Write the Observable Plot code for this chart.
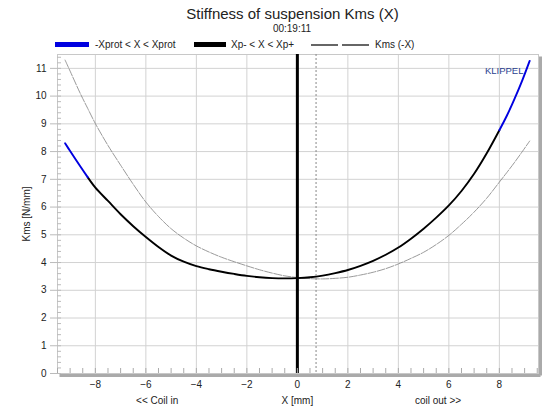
<!DOCTYPE html>
<html>
<head>
<meta charset="utf-8">
<script src="https://cdn.jsdelivr.net/npm/d3@7"></script>
<script src="https://cdn.jsdelivr.net/npm/@observablehq/plot@0.6"></script>
<style>
html, body { margin: 0; padding: 0; background: #fff; }
#wrap { position: relative; width: 560px; height: 413px; overflow: hidden;
  font-family: "Liberation Sans", Arial, sans-serif; color: #222; }
.t { position: absolute; white-space: nowrap; line-height: 1; }
#title { left: 0; width: 585px; text-align: center; top: 6px; font-size: 15px; }
#sub { left: 0; width: 584px; text-align: center; top: 24px; font-size: 10px; }
.sw { position: absolute; height: 5px; top: 42px; }
.lg { position: absolute; top: 40px; font-size: 10px; line-height: 10px; white-space: nowrap; }
#chart { position: absolute; left: 0; top: 44px; }
</style>
</head>
<body>
<div id="wrap">
  <div class="t" id="title">Stiffness of suspension Kms (X)</div>
  <div class="t" id="sub">00:19:11</div>
  <div class="sw" style="left:55px;width:34px;background:#0000e0;"></div>
  <div class="lg" style="left:95px;">-Xprot &lt; X &lt; Xprot</div>
  <div class="sw" style="left:194px;width:32px;background:#000;"></div>
  <div class="lg" style="left:231px;">Xp- &lt; X &lt; Xp+</div>
  <div class="sw" style="left:311px;width:27px;height:2px;top:44px;background:#666;"></div>
  <div class="sw" style="left:342px;width:27px;height:2px;top:44px;background:#666;"></div>
  <div class="lg" style="left:375px;">Kms (-X)</div>
  <div id="chart"></div>
</div>
<script>
// displacement X [mm]
const xs = [-9.2,-9.0,-8.6,-8.3,-8.0,-7.5,-7.0,-6.5,-6.0,-5.5,-5.0,-4.5,-4.0,-3.5,-3.0,-2.5,-2.0,-1.5,-1.0,-0.5,0,
            0.5,1.0,1.5,2.0,2.5,3.0,3.5,4.0,4.5,5.0,5.5,6.0,6.5,7.0,7.5,8.0,8.3,8.6,8.9,9.2];
// Kms(X) [N/mm]
const kms = [8.30,8.02,7.47,7.07,6.70,6.22,5.74,5.31,4.92,4.56,4.25,4.03,3.87,3.76,3.67,3.59,3.52,3.47,3.44,3.43,3.44,
             3.47,3.53,3.62,3.73,3.88,4.06,4.28,4.54,4.86,5.22,5.62,6.06,6.58,7.20,7.94,8.77,9.30,9.90,10.55,11.27];
// Kms(-X) [N/mm]
const kmsMirror = [11.3,10.9,10.1,9.55,9.01,8.22,7.51,6.82,6.18,5.66,5.22,4.88,4.60,4.38,4.19,4.03,3.88,3.74,3.62,3.52,3.46,
                   3.42,3.41,3.43,3.47,3.55,3.65,3.78,3.95,4.15,4.37,4.65,4.98,5.38,5.82,6.32,6.90,7.25,7.61,7.99,8.38];
// protection limits and reference lines
const xprotLimits = [-8.3, 8.0];
const restLine = [0];
const offsetLine = [0.74];
// axes
const xDomain = [-9.5, 9.55];
const yDomain = [0, 11.5];
const xTicks = [-8,-6,-4,-2,0,2,4,6,8];
const xMinor = d3.range(-9.5, 9.51, 0.5);
const yTicks = [0,1,2,3,4,5,6,7,8,9,10,11];
const yMinor = d3.range(0, 11.41, 0.2);
const subTickPos = [-5.55, 0, 5.57];
const subTickLabels = ["<< Coil in", "X [mm]", "coil out >>"];
const brand = ["KLIPPEL"];

const main = xs.map((x, i) => ({x, y: kms[i]}));
const mirror = xs.map((x, i) => ({x, y: kmsMirror[i]}));
const blueLeft = main.filter(d => d.x <= xprotLimits[0]);
const blueRight = main.filter(d => d.x >= xprotLimits[1]);
const black = main.filter(d => d.x >= xprotLimits[0] && d.x <= xprotLimits[1]);

const plot = Plot.plot({
  width: 560, height: 369,
  marginTop: 10, marginBottom: 40, marginLeft: 57, marginRight: 22,
  style: {fontFamily: "Liberation Sans, Arial, sans-serif", fontSize: "10px", background: "transparent", color: "#222", overflow: "visible"},
  x: {domain: xDomain},
  y: {domain: yDomain},
  marks: [
    Plot.gridX(xTicks, {stroke: "#d2d2d2", strokeOpacity: 1}),
    Plot.gridY(yTicks, {stroke: "#d2d2d2", strokeOpacity: 1}),
    Plot.frame({stroke: "#c8c8c8"}),
    Plot.line(mirror, {x: "x", y: "y", stroke: "#808080", strokeWidth: 0.8, strokeDasharray: "8,1.5", curve: "catmull-rom"}),
    Plot.line(black, {x: "x", y: "y", stroke: "#000", strokeWidth: 1.9, curve: "catmull-rom"}),
    Plot.line(blueLeft, {x: "x", y: "y", stroke: "#0000e0", strokeWidth: 1.9, curve: "catmull-rom"}),
    Plot.line(blueRight, {x: "x", y: "y", stroke: "#0000e0", strokeWidth: 1.9, curve: "catmull-rom"}),
    Plot.ruleX(offsetLine, {stroke: "#888", strokeWidth: 1, strokeDasharray: "2,2"}),
    Plot.ruleX(restLine, {stroke: "#000", strokeWidth: 3}),
    Plot.ruleY([yDomain[0]], {stroke: "#aaa", strokeWidth: 3, dx: 2.5, dy: 2}),
    Plot.ruleX([xDomain[1]], {stroke: "#aaa", strokeWidth: 3, dx: 2, dy: 2.5}),
    Plot.axisY(yTicks, {tickSize: 7, tickPadding: 4, stroke: "#bbb", fill: "#222", label: "Kms [N/mm]", labelAnchor: "center", labelOffset: 35, labelArrow: "none"}),
    Plot.axisY(yMinor, {tickSize: -4, tickFormat: () => "", stroke: "#bbb", label: null}),
    Plot.axisX(xTicks, {tickSize: 0, tickPadding: 7, fill: "#222", label: null}),
    Plot.axisX(xMinor, {tickSize: -5, tickFormat: () => "", stroke: "#aaa", label: null}),
    Plot.axisX(subTickPos, {tickSize: 0, tickPadding: 23, fill: "#222", tickFormat: (d, i) => subTickLabels[i], label: null}),
    Plot.text(brand, {frameAnchor: "top-right", dx: -15, dy: 13, textAnchor: "end", fill: "#2b3f91", fontSize: 9.5})
  ]
});
document.getElementById("chart").appendChild(plot);
</script>
</body>
</html>
